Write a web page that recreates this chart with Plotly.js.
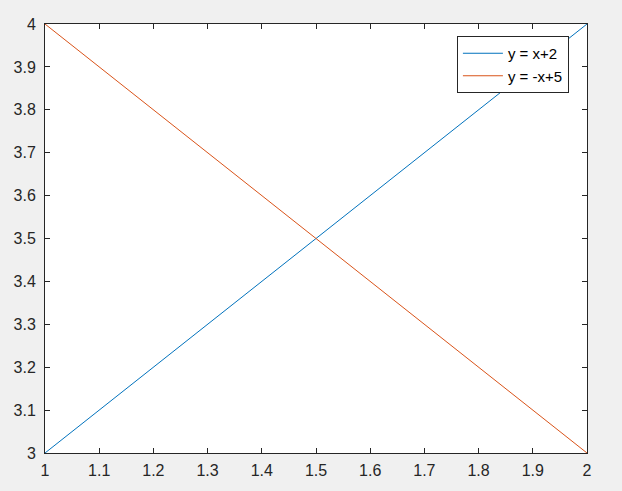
<!DOCTYPE html>
<html>
<head>
<meta charset="utf-8">
<script src="https://cdn.plot.ly/plotly-3.0.1.min.js"></script>
<style>
  html, body { margin: 0; padding: 0; background: #f0f0f0; }
</style>
</head>
<body>
<div id="chart"></div>
<script>
// line end points
var xs = [1, 2];
var yUp = [3, 4];      // y = x+2
var yDown = [4, 3];    // y = -x+5
var names = ["y = x+2", "y = -x+5"];

var data = [
    {
        x: xs, y: yUp, name: names[0],
        type: "scatter", mode: "lines",
        line: { color: "#0072BD", width: 1 }
    },
    {
        x: xs, y: yDown, name: names[1],
        type: "scatter", mode: "lines",
        line: { color: "#D95319", width: 1 }
    }
];

var axisStyle = {
    showgrid: false, zeroline: false,
    showline: true, linecolor: "#262626", linewidth: 1,
    mirror: "ticks", ticks: "inside", ticklen: 5, tickcolor: "#262626",
    dtick: 0.1,
    tickfont: { family: "Arial, Liberation Sans, sans-serif", size: 16, color: "#262626" }
};

var layout = {
    width: 622, height: 491,
    paper_bgcolor: "#f0f0f0", plot_bgcolor: "#ffffff",
    margin: { l: 45, r: 35, t: 24, b: 38 },
    showlegend: true,
    xaxis: Object.assign({ range: [1, 2], tick0: 1, ticklabelstandoff: 3 }, axisStyle),
    yaxis: Object.assign({ range: [3, 4], tick0: 3, ticklabelstandoff: 5 }, axisStyle),
    legend: {
        x: 0.76, y: 0.972, xanchor: "left", yanchor: "top",
        bgcolor: "#ffffff", bordercolor: "#262626", borderwidth: 1,
        font: { family: "Arial, Liberation Sans, sans-serif", size: 15, color: "#000000" },
        tracegroupgap: 0, itemwidth: 40
    }
};

Plotly.newPlot("chart", data, layout, { displayModeBar: false, staticPlot: true });
</script>
</body>
</html>
